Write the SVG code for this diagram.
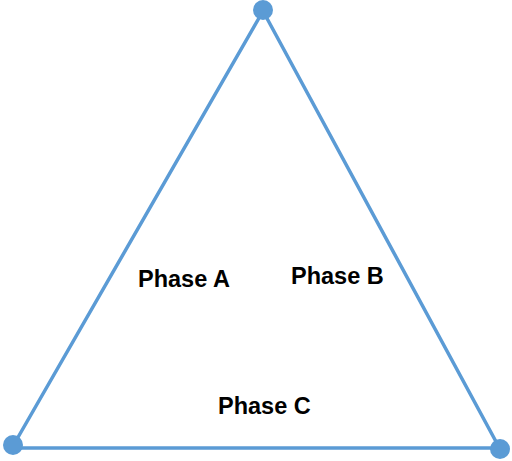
<svg xmlns="http://www.w3.org/2000/svg" width="512" height="461" viewBox="0 0 512 461">
<style>
.edge{stroke:#5B9BD5;stroke-width:3.5;fill:none;stroke-linecap:round}
.dot{fill:#5B9BD5}
.lbl{font-family:"Liberation Sans",Arial,sans-serif;font-weight:bold;font-size:23.5px;fill:#000}
</style>
<rect width="512" height="461" fill="#fff"/>
<g id="connectors">
<line class="edge" x1="263" y1="11" x2="13" y2="446"/>
<line class="edge" x1="263" y1="11" x2="500" y2="449"/>
<line class="edge" x1="13" y1="448" x2="500" y2="448"/>
</g>
<g id="node-top"><circle class="dot" cx="263" cy="10" r="10"/></g>
<g id="node-left"><circle class="dot" cx="13" cy="445" r="10"/></g>
<g id="node-right"><circle class="dot" cx="500" cy="449" r="10"/></g>
<g id="label-a"><text class="lbl" x="138" y="287">Phase A</text></g>
<g id="label-b"><text class="lbl" x="291" y="284">Phase B</text></g>
<g id="label-c"><text class="lbl" x="218" y="414">Phase C</text></g>
</svg>
